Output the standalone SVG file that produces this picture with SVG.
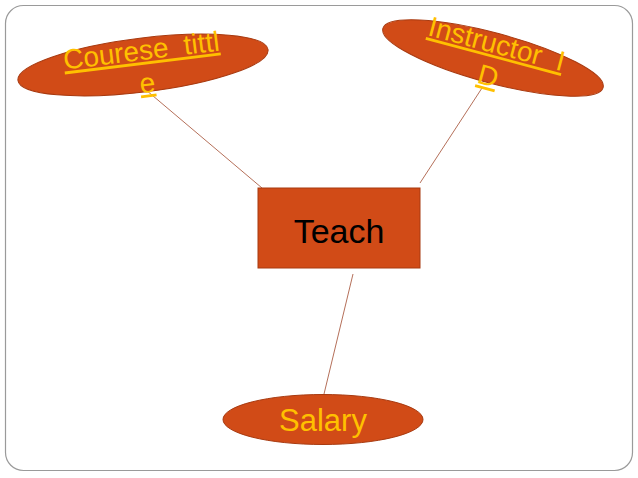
<svg xmlns="http://www.w3.org/2000/svg" width="638" height="478" viewBox="0 0 638 478">
<style>
.shape{fill:#D14B17;stroke:#A83A10;stroke-width:1}
.attr{font-family:"Liberation Sans",Arial,sans-serif;font-size:28px;fill:#FFC000;text-anchor:middle}
.u{text-decoration:underline}
.conn{stroke:#B5705A;stroke-width:1;fill:none}
</style>
<rect x="5.5" y="5.5" width="627" height="465" rx="18" fill="#fff" stroke="#9a9a9a" stroke-width="1.2"/>
<g id="connectors">
<line class="conn" x1="146" y1="90" x2="262" y2="188"/>
<line class="conn" x1="482" y1="88" x2="420" y2="183"/>
<line class="conn" x1="353" y1="274" x2="324" y2="394"/>
</g>
<g id="course_title" transform="rotate(-7 143 65)">
<ellipse class="shape" cx="143" cy="65" rx="126" ry="27"/>
<text class="attr u" x="143" y="60" xml:space="preserve">Courese  tittl</text>
<text class="attr u" x="145" y="93">e</text>
</g>
<g id="instructor_id" transform="rotate(15 493 58)">
<ellipse class="shape" cx="493" cy="58" rx="114" ry="25"/>
<text class="attr u" x="493" y="53" xml:space="preserve">Instructor  I</text>
<text class="attr u" x="493" y="86">D</text>
</g>
<g id="teach">
<rect class="shape" x="258" y="188" width="162" height="80"/>
<text x="339" y="243" font-family="Liberation Sans,Arial,sans-serif" font-size="34" fill="#000" text-anchor="middle">Teach</text>
</g>
<g id="salary">
<ellipse class="shape" cx="323" cy="419.5" rx="100" ry="25"/>
<text class="attr" x="323" y="431" style="font-size:31px">Salary</text>
</g>
</svg>
